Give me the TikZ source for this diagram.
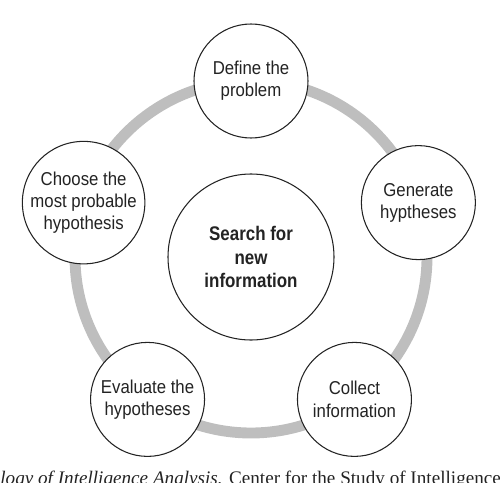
\documentclass[tikz,border=0pt]{standalone}
\usepackage{fontspec}
\setmainfont{Liberation Serif}
\newfontfamily\narrowsans[FakeStretch=0.9]{Liberation Sans}
\newfontfamily\narrowbold[FakeStretch=0.86]{Liberation Sans Bold}

\definecolor{ringgray}{RGB}{190,190,190}
\definecolor{inkgray}{RGB}{35,35,35}

\begin{document}
\begin{tikzpicture}[
    stage/.style={circle, draw=inkgray, fill=white, line width=0.6pt, inner sep=0pt,
      minimum size=2.28cm, align=center, text=inkgray,
      font=\narrowsans\fontsize{10.6}{12.6}\selectfont},
    hub/.style={stage, minimum size=3.32cm,
      font=\narrowbold\fontsize{11.2}{13.6}\selectfont}
  ]
    \clip (-5.02,5.14) rectangle (4.98,-4.50);

    \coordinate (mid) at (0,0);
    \draw[ringgray, line width=6.2pt] (mid) circle (3.52);

    \node[hub] (c) at (mid) {Search for\\new\\information};
    \node[stage] (1) at (90:3.52) {Define the\\problem};
    \node[stage] (2) at (18:3.52) {Generate\\hyptheses};
    \node[stage] (3) at (-54:3.52) {Collect\\information};
    \node[stage] (4) at (-126:3.52) {Evaluate the\\hypotheses};
    \node[stage] (5) at (162:3.52) {Choose the\\most probable\\hypothesis};

    \node[anchor=base west, inner sep=0pt, text=inkgray, font=\fontsize{10.9}{13}\selectfont]
      (src) at (-5.02,-4.55) {\textit{logy of Intelligence Analysis.} Center for the Study of Intelligence};
  \end{tikzpicture}
\end{document}
